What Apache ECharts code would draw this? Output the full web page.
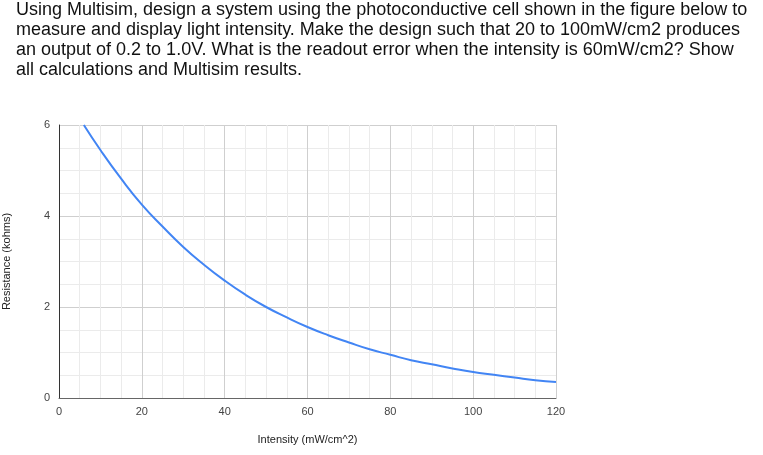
<!DOCTYPE html>
<html>
<head>
<meta charset="utf-8">
<script src="https://cdn.jsdelivr.net/npm/echarts@6/dist/echarts.min.js"></script>
<style>
  html, body { margin: 0; padding: 0; background: #fff; }
  #main { width: 763px; height: 455px; }
</style>
</head>
<body>
<div id="main"></div>
<script>
    // question text above the chart
    var questionLines = [
        'Using Multisim, design a system using the photoconductive cell shown in the figure below to',
        'measure and display light intensity. Make the design such that 20 to 100mW/cm2 produces',
        'an output of 0.2 to 1.0V. What is the readout error when the intensity is 60mW/cm2? Show',
        'all calculations and Multisim results.'
    ];

    // values
    var intensity = [6, 10, 15, 20, 25, 30, 35, 40, 45, 50, 55, 60, 65, 70, 75, 80, 85, 90, 95, 100, 105, 110, 115, 120];
    var resistance = [6.0, 5.45, 4.82, 4.25, 3.77, 3.32, 2.93, 2.58, 2.27, 2.0, 1.77, 1.56, 1.38, 1.22, 1.07, 0.95, 0.83, 0.74, 0.65, 0.57, 0.51, 0.45, 0.39, 0.35];

    var xName = 'Intensity (mW/cm^2)';
    var yName = 'Resistance (kohms)';

    var myChart = echarts.init(document.getElementById('main'));

    var points = intensity.map(function (x, i) { return [x, resistance[i]]; });

    var option = {
        animation: false,
        title: {
            text: questionLines.join('\n'),
            left: 16,
            top: 0,
            padding: 0,
            textStyle: {
                fontFamily: 'Liberation Sans',
                fontSize: 18,
                fontWeight: 'normal',
                color: '#111',
                lineHeight: 20
            }
        },
        grid: {
            left: 59,
            right: 207,
            top: 125,
            bottom: 57,
            outerBoundsMode: 'none'
        },
        xAxis: {
            type: 'value',
            min: 0,
            max: 120,
            interval: 20,
            name: xName,
            nameLocation: 'middle',
            nameGap: 36,
            nameTextStyle: { fontFamily: 'Liberation Sans', fontSize: 11, color: '#222' },
            axisLine: { lineStyle: { color: '#666', width: 1 } },
            axisTick: { show: false },
            axisLabel: { fontFamily: 'Liberation Sans', fontSize: 11, color: '#444', margin: 8 },
            splitLine: { lineStyle: { color: '#cfcfcf' } },
            minorTick: { show: false, splitNumber: 4 },
            minorSplitLine: { show: true, lineStyle: { color: '#ebebeb' } }
        },
        yAxis: {
            type: 'value',
            min: 0,
            max: 6,
            interval: 2,
            name: yName,
            nameLocation: 'middle',
            nameGap: 47,
            nameTextStyle: { fontFamily: 'Liberation Sans', fontSize: 11, color: '#222' },
            axisLine: { show: true, lineStyle: { color: '#333', width: 1 } },
            axisTick: { show: false },
            axisLabel: { fontFamily: 'Liberation Sans', fontSize: 11, color: '#444', margin: 9 },
            splitLine: { lineStyle: { color: '#cfcfcf' } },
            minorTick: { show: false, splitNumber: 4 },
            minorSplitLine: { show: true, lineStyle: { color: '#ebebeb' } }
        },
        series: [{
            type: 'line',
            data: points,
            smooth: true,
            showSymbol: false,
            lineStyle: { color: '#4285f4', width: 2 }
        }]
    };

    myChart.setOption(option);
</script>
</body>
</html>
